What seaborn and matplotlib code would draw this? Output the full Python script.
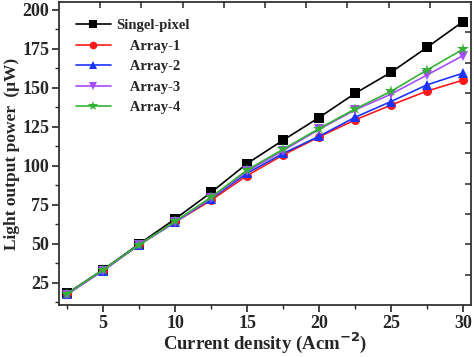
import numpy as np
import pandas as pd
import seaborn as sns
import matplotlib.pyplot as plt
from matplotlib.ticker import MultipleLocator

# current density (A/cm^2) and light output power (uW)
current_density = [2.5, 5, 7.5, 10, 12.5, 15, 17.5, 20, 22.5, 25, 27.5, 30]
singel_pixel = [18.3, 33.5, 50, 66, 83, 101.5, 116.5, 131, 146.5, 160, 176, 192.5]
array_1 = [18, 33, 49.5, 64, 78, 93.8, 107, 118.6, 129.5, 139, 148, 155]
array_2 = [18, 33, 49.5, 64, 79, 95.3, 108, 119, 131.2, 141.3, 152, 159.5]
array_3 = [17.5, 33, 49.5, 64, 79.5, 96.5, 109.8, 123.4, 135.9, 146, 158.3, 170.7]
array_4 = [18, 33.5, 49.5, 64.5, 80, 97.4, 110.7, 124, 136.5, 147.8, 161.5, 174.8]
device_names = ['Singel-pixel', 'Array-1', 'Array-2', 'Array-3', 'Array-4']

series = [singel_pixel, array_1, array_2, array_3, array_4]
df = pd.concat([pd.DataFrame({'current': current_density, 'power': vals, 'device': name})
                for name, vals in zip(device_names, series)], ignore_index=True)

sns.set_style('ticks')
plt.rcParams['font.family'] = ['Liberation Serif', 'DejaVu Serif']
plt.rcParams['font.weight'] = 'bold'

fig = plt.figure(figsize=(4.74, 3.57), dpi=100)
ax = fig.add_axes([0.1245, 0.1457, 0.8692, 0.8487])

colors = ['#000000', '#ff1a1a', '#1a33ff', '#a64dff', '#33b233']
markers = ['s', 'o', '^', 'v', '*']
sns.lineplot(data=df, x='current', y='power', hue='device', style='device',
             palette=colors, markers=markers, dashes=False, linewidth=1.2,
             markersize=6.5, markeredgewidth=0, ax=ax)
# the star is smaller than the others at the same size
for line in ax.lines:
    if line.get_marker() == '*':
        line.set_markersize(9)

ax.set_xlim(1.94, 30.56)
ax.set_ylim(10.9, 205.1)
ax.xaxis.set_major_locator(MultipleLocator(5))
ax.xaxis.set_minor_locator(MultipleLocator(2.5))
ax.yaxis.set_major_locator(MultipleLocator(25))
ax.yaxis.set_minor_locator(MultipleLocator(12.5))
ax.tick_params(which='major', direction='out', length=5, width=1.2, labelsize=13, pad=2)
ax.tick_params(which='minor', direction='out', length=3, width=1.0)
for spine in ax.spines.values():
    spine.set_linewidth(1.3)
    spine.set_color('#333333')

ax.set_xlabel('Current density (Acm$^{\\mathbf{-2}}$)', fontsize=13.5, fontweight='bold', labelpad=-1)
ax.set_ylabel('Light output power  (\u03bcW)', fontsize=12.5, fontweight='bold', labelpad=2)

# mirrored ticks on top and right split the box into ten
ax_frame = fig.add_axes(ax.get_position(), frameon=False)
ax_frame.set_xlim(0, 10)
ax_frame.set_ylim(0, 10)
ax_frame.set_xticks(range(1, 10))
ax_frame.set_yticks(range(1, 10))
ax_frame.tick_params(top=True, right=True, bottom=False, left=False, labeltop=False,
                     labelright=False, labelbottom=False, labelleft=False,
                     direction='in', length=4, width=1.1)
ax_frame.patch.set_visible(False)

handles, labels = ax.get_legend_handles_labels()
legend_labels = ['Singel-pixel', '    Array-1', '    Array-2', '    Array-3', '    Array-4']
ax.legend(handles, legend_labels, loc='upper left', bbox_to_anchor=(0.041, 0.943),
          frameon=False, borderaxespad=0, borderpad=0, handlelength=2.4,
          handletextpad=0.35, labelspacing=0.5, markerscale=0.85,
          prop={'size': 10.5, 'weight': 'bold'})

fig.savefig('out.png', dpi=100)
